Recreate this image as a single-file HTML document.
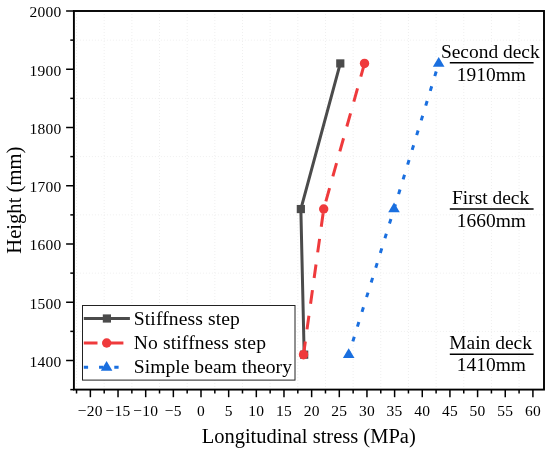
<!DOCTYPE html>
<html lang="en"><head><meta charset="utf-8"><title>Longitudinal stress vs height</title>
<style>html,body{margin:0;padding:0;background:#fff}body{width:550px;height:451px;overflow:hidden}svg{display:block}text{font-family:'Liberation Serif', 'Times New Roman', serif;fill:#000;font-variant-ligatures:none}</style></head><body>
<svg width="550" height="451" viewBox="0 0 550 451">
<rect width="550" height="451" fill="#fff"/>
<g stroke="#efefef" stroke-width="1" stroke-dasharray="1 2" fill="none"><line x1="104.20" y1="11.0" x2="104.20" y2="389.6"/><line x1="131.86" y1="11.0" x2="131.86" y2="389.6"/><line x1="159.52" y1="11.0" x2="159.52" y2="389.6"/><line x1="187.17" y1="11.0" x2="187.17" y2="389.6"/><line x1="214.83" y1="11.0" x2="214.83" y2="389.6"/><line x1="242.49" y1="11.0" x2="242.49" y2="389.6"/><line x1="270.15" y1="11.0" x2="270.15" y2="389.6"/><line x1="297.81" y1="11.0" x2="297.81" y2="389.6"/><line x1="325.47" y1="11.0" x2="325.47" y2="389.6"/><line x1="353.13" y1="11.0" x2="353.13" y2="389.6"/><line x1="380.78" y1="11.0" x2="380.78" y2="389.6"/><line x1="408.44" y1="11.0" x2="408.44" y2="389.6"/><line x1="436.10" y1="11.0" x2="436.10" y2="389.6"/><line x1="463.76" y1="11.0" x2="463.76" y2="389.6"/><line x1="491.42" y1="11.0" x2="491.42" y2="389.6"/><line x1="519.08" y1="11.0" x2="519.08" y2="389.6"/><line x1="76.54" y1="11.0" x2="76.54" y2="389.6"/><line x1="73.9" y1="331.38" x2="544.0" y2="331.38"/><line x1="73.9" y1="273.12" x2="544.0" y2="273.12"/><line x1="73.9" y1="214.88" x2="544.0" y2="214.88"/><line x1="73.9" y1="156.62" x2="544.0" y2="156.62"/><line x1="73.9" y1="98.38" x2="544.0" y2="98.38"/><line x1="73.9" y1="40.12" x2="544.0" y2="40.12"/></g>
<polyline points="340.29,63.43 300.85,209.05 304.17,354.68" fill="none" stroke="#4b4b4b" stroke-width="3" stroke-linejoin="round"/>
<rect x="336.19" y="59.33" width="8.2" height="8.2" fill="#4b4b4b"/>
<rect x="296.75" y="204.95" width="8.2" height="8.2" fill="#4b4b4b"/>
<rect x="300.07" y="350.57" width="8.2" height="8.2" fill="#4b4b4b"/>
<polyline points="364.52,63.43 323.70,209.05 303.51,354.68" fill="none" stroke="#ef3a3c" stroke-width="3" stroke-dasharray="13.7 12.2"/>
<circle cx="364.52" cy="63.43" r="4.7" fill="#ef3a3c"/>
<circle cx="323.70" cy="209.05" r="4.7" fill="#ef3a3c"/>
<circle cx="303.51" cy="354.68" r="4.7" fill="#ef3a3c"/>
<polyline points="438.70,63.43 394.01,209.05 348.70,354.68" fill="none" stroke="#1A6FDF" stroke-width="3" stroke-dasharray="4.8 10.62" stroke-dashoffset="-8.5"/>
<polygon points="438.70,56.96 432.90,66.66 444.50,66.66" fill="#1A6FDF"/>
<polygon points="394.01,202.58 388.21,212.28 399.81,212.28" fill="#1A6FDF"/>
<polygon points="348.70,348.21 342.90,357.91 354.50,357.91" fill="#1A6FDF"/>
<rect x="73.9" y="11.0" width="470.1" height="378.6" fill="none" stroke="#000" stroke-width="1.9"/>
<g stroke="#000" stroke-width="1.5"><line x1="70.3" y1="389.62" x2="73.9" y2="389.62"/><line x1="66.1" y1="360.50" x2="73.9" y2="360.50"/><line x1="70.3" y1="331.38" x2="73.9" y2="331.38"/><line x1="66.1" y1="302.25" x2="73.9" y2="302.25"/><line x1="70.3" y1="273.12" x2="73.9" y2="273.12"/><line x1="66.1" y1="244.00" x2="73.9" y2="244.00"/><line x1="70.3" y1="214.88" x2="73.9" y2="214.88"/><line x1="66.1" y1="185.75" x2="73.9" y2="185.75"/><line x1="70.3" y1="156.62" x2="73.9" y2="156.62"/><line x1="66.1" y1="127.50" x2="73.9" y2="127.50"/><line x1="70.3" y1="98.38" x2="73.9" y2="98.38"/><line x1="66.1" y1="69.25" x2="73.9" y2="69.25"/><line x1="70.3" y1="40.12" x2="73.9" y2="40.12"/><line x1="66.1" y1="11.00" x2="73.9" y2="11.00"/><line x1="76.54" y1="389.6" x2="76.54" y2="393.5"/><line x1="90.37" y1="389.6" x2="90.37" y2="397.2"/><line x1="104.20" y1="389.6" x2="104.20" y2="393.5"/><line x1="118.03" y1="389.6" x2="118.03" y2="397.2"/><line x1="131.86" y1="389.6" x2="131.86" y2="393.5"/><line x1="145.69" y1="389.6" x2="145.69" y2="397.2"/><line x1="159.52" y1="389.6" x2="159.52" y2="393.5"/><line x1="173.35" y1="389.6" x2="173.35" y2="397.2"/><line x1="187.17" y1="389.6" x2="187.17" y2="393.5"/><line x1="201.00" y1="389.6" x2="201.00" y2="397.2"/><line x1="214.83" y1="389.6" x2="214.83" y2="393.5"/><line x1="228.66" y1="389.6" x2="228.66" y2="397.2"/><line x1="242.49" y1="389.6" x2="242.49" y2="393.5"/><line x1="256.32" y1="389.6" x2="256.32" y2="397.2"/><line x1="270.15" y1="389.6" x2="270.15" y2="393.5"/><line x1="283.98" y1="389.6" x2="283.98" y2="397.2"/><line x1="297.81" y1="389.6" x2="297.81" y2="393.5"/><line x1="311.64" y1="389.6" x2="311.64" y2="397.2"/><line x1="325.47" y1="389.6" x2="325.47" y2="393.5"/><line x1="339.30" y1="389.6" x2="339.30" y2="397.2"/><line x1="353.13" y1="389.6" x2="353.13" y2="393.5"/><line x1="366.95" y1="389.6" x2="366.95" y2="397.2"/><line x1="380.78" y1="389.6" x2="380.78" y2="393.5"/><line x1="394.61" y1="389.6" x2="394.61" y2="397.2"/><line x1="408.44" y1="389.6" x2="408.44" y2="393.5"/><line x1="422.27" y1="389.6" x2="422.27" y2="397.2"/><line x1="436.10" y1="389.6" x2="436.10" y2="393.5"/><line x1="449.93" y1="389.6" x2="449.93" y2="397.2"/><line x1="463.76" y1="389.6" x2="463.76" y2="393.5"/><line x1="477.59" y1="389.6" x2="477.59" y2="397.2"/><line x1="491.42" y1="389.6" x2="491.42" y2="393.5"/><line x1="505.25" y1="389.6" x2="505.25" y2="397.2"/><line x1="519.08" y1="389.6" x2="519.08" y2="393.5"/><line x1="532.91" y1="389.6" x2="532.91" y2="397.2"/></g>
<g font-size="15.5px" letter-spacing="0.25" text-anchor="end">
<text x="61.6" y="366.80">1400</text>
<text x="61.6" y="308.55">1500</text>
<text x="61.6" y="250.30">1600</text>
<text x="61.6" y="192.05">1700</text>
<text x="61.6" y="133.80">1800</text>
<text x="61.6" y="75.55">1900</text>
<text x="61.6" y="17.30">2000</text>
</g>
<g font-size="15.5px" letter-spacing="0.25" text-anchor="middle">
<text x="90.37" y="416">−20</text>
<text x="118.03" y="416">−15</text>
<text x="145.69" y="416">−10</text>
<text x="173.35" y="416">−5</text>
<text x="201.00" y="416">0</text>
<text x="228.66" y="416">5</text>
<text x="256.32" y="416">10</text>
<text x="283.98" y="416">15</text>
<text x="311.64" y="416">20</text>
<text x="339.30" y="416">25</text>
<text x="366.95" y="416">30</text>
<text x="394.61" y="416">35</text>
<text x="422.27" y="416">40</text>
<text x="449.93" y="416">45</text>
<text x="477.59" y="416">50</text>
<text x="505.25" y="416">55</text>
<text x="532.91" y="416">60</text>
</g>
<text x="308.7" y="443.4" font-size="20.5px" text-anchor="middle">Longitudinal stress (MPa)</text>
<text transform="translate(21.3 200.2) rotate(-90)" font-size="20.6px" text-anchor="middle">Height (mm)</text>
<rect x="82.5" y="305.5" width="212.5" height="74.6" fill="#fff" stroke="#222" stroke-width="1"/>
<line x1="83.8" y1="318.5" x2="129.9" y2="318.5" stroke="#4b4b4b" stroke-width="3"/>
<rect x="102.80" y="314.40" width="8.2" height="8.2" fill="#4b4b4b"/>
<line x1="83.8" y1="343.0" x2="129.9" y2="343.0" stroke="#ef3a3c" stroke-width="3" stroke-dasharray="13.7 12.2"/>
<circle cx="106.7" cy="343.0" r="4.7" fill="#ef3a3c"/>
<line x1="83.8" y1="367.2" x2="128" y2="367.2" stroke="#1A6FDF" stroke-width="3" stroke-dasharray="4.3 10.95"/>
<polygon points="106.60,361.03 100.80,370.73 112.40,370.73" fill="#1A6FDF"/>
<g font-size="19.6px">
<text x="133.8" y="325.1" letter-spacing="0.10">Stiffness step</text>
<text x="133.8" y="349.2" letter-spacing="0.12">No stiffness step</text>
<text x="133.8" y="373.1" letter-spacing="0.02">Simple beam theory</text>
</g>
<g font-size="19.45px" text-anchor="middle">
<text x="490.3" y="57.9">Second deck</text>
<line x1="449.8" y1="62.7" x2="533.6" y2="62.7" stroke="#000" stroke-width="1.6"/>
<text x="491.4" y="80.8">1910mm</text>
<text x="490.6" y="203.6">First deck</text>
<line x1="449.8" y1="209.0" x2="533.6" y2="209.0" stroke="#000" stroke-width="1.6"/>
<text x="491.4" y="226.5">1660mm</text>
<text x="490.6" y="348.6">Main deck</text>
<line x1="449.8" y1="354.3" x2="533.6" y2="354.3" stroke="#000" stroke-width="1.6"/>
<text x="491.4" y="370.5">1410mm</text>
</g>
</svg></body></html>
